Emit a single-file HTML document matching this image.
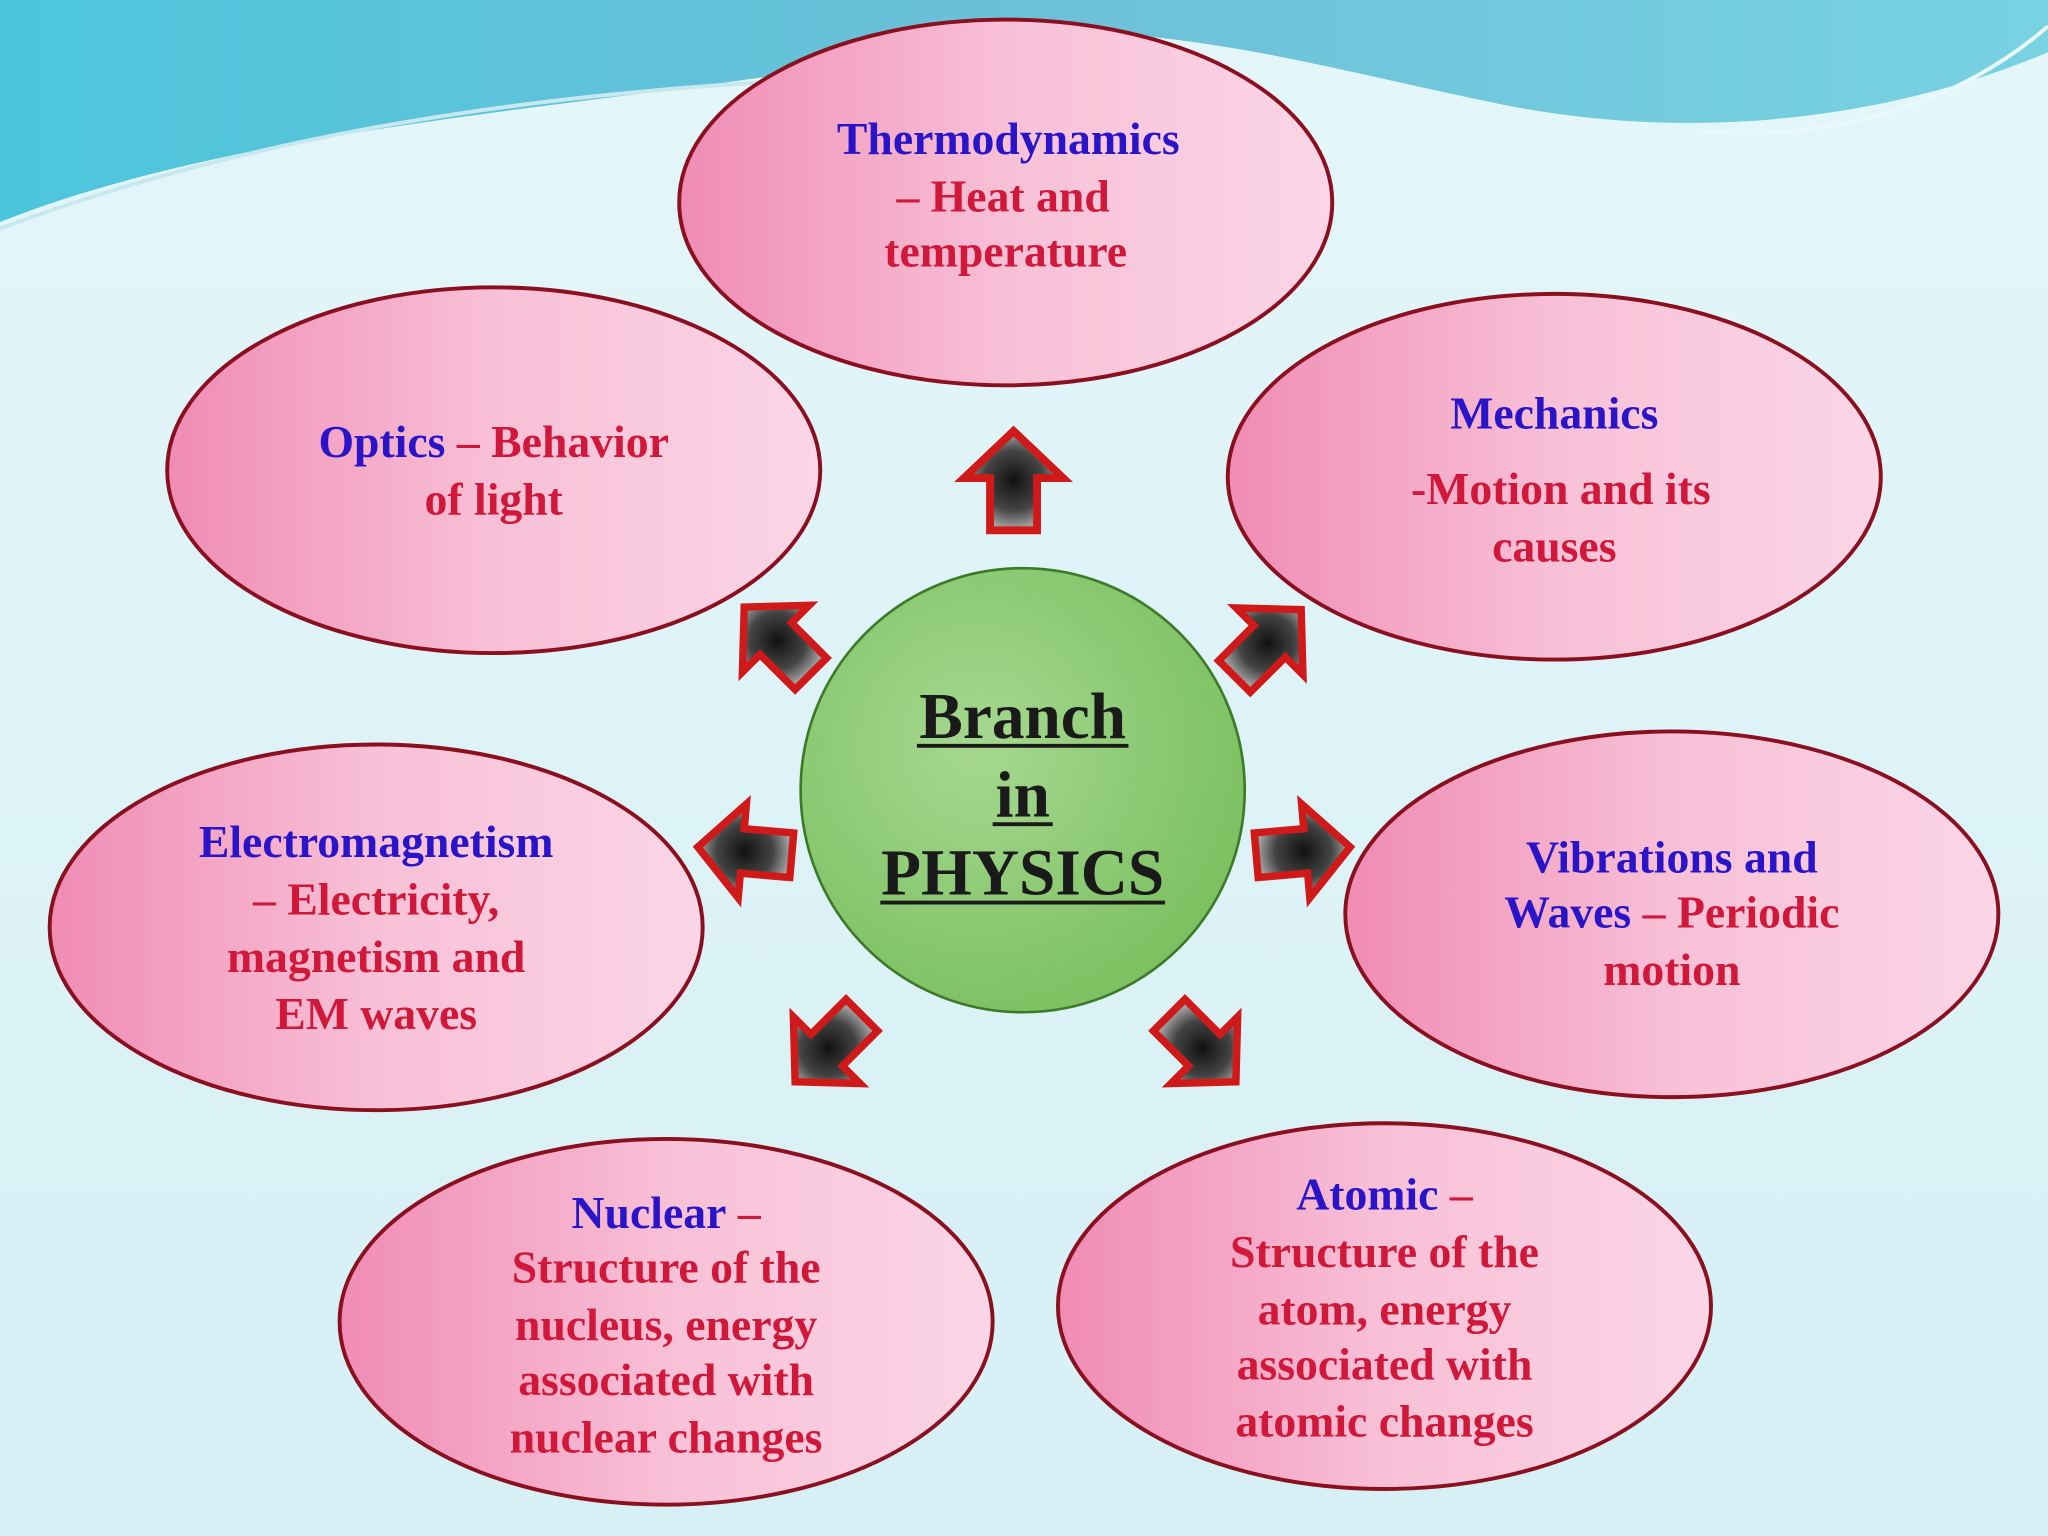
<!DOCTYPE html>
<html><head><meta charset="utf-8"><style>html,body{margin:0;padding:0;width:2048px;height:1536px;overflow:hidden}</style></head><body>
<svg width="2048" height="1536" viewBox="0 0 1568 1176" preserveAspectRatio="none" xmlns="http://www.w3.org/2000/svg">
<defs>
<linearGradient id="bg" x1="0" y1="0" x2="0" y2="1"><stop offset="0" stop-color="#e4f6fa"/><stop offset="1" stop-color="#d6f0f5"/></linearGradient>
<linearGradient id="wave" x1="0" y1="0" x2="1" y2="0"><stop offset="0" stop-color="#4cc6dc"/><stop offset="0.5" stop-color="#6cc0d8"/><stop offset="1" stop-color="#78d2e2"/></linearGradient>
<linearGradient id="pink" x1="0" y1="0" x2="1" y2="0"><stop offset="0" stop-color="#f08cb4"/><stop offset="0.5" stop-color="#f8c0d6"/><stop offset="1" stop-color="#fbd6e6"/></linearGradient>
<radialGradient id="green" cx="0.4" cy="0.4" r="0.7"><stop offset="0" stop-color="#a6d890"/><stop offset="1" stop-color="#78be5c"/></radialGradient>
<radialGradient id="blk" cx="0.5" cy="0.5" r="0.5"><stop offset="0" stop-color="#111"/><stop offset="0.6" stop-color="#444"/><stop offset="1" stop-color="#aaa"/></radialGradient>
<g id="arr"><path d="M0,-42 L38,-6 L18,-6 L18,34 L-18,34 L-18,-6 L-38,-6 Z" fill="url(#blk)" stroke="#d01a1a" stroke-width="6" stroke-linejoin="miter"/></g>
</defs>
<rect width="1568" height="1176" fill="url(#bg)"/>
<path d="M0,0 H1568 V40 C1450,90 1300,110 1150,80 C1000,50 850,0 700,40 C500,80 200,90 0,170 Z" fill="url(#wave)"/>
<path d="M0,175 C200,100 420,70 640,60" stroke="#c8e8ef" stroke-width="3" fill="none"/>
<path d="M1568,20 C1500,80 1400,110 1300,100" stroke="#e8f8fb" stroke-width="3" fill="none"/>
<g stroke="#8a1020" stroke-width="3" fill="url(#pink)">
<ellipse cx="770" cy="155" rx="250" ry="140"/>
<ellipse cx="378" cy="360" rx="250" ry="140"/>
<ellipse cx="1190" cy="365" rx="250" ry="140"/>
<ellipse cx="288" cy="710" rx="250" ry="140"/>
<ellipse cx="1280" cy="700" rx="250" ry="140"/>
<ellipse cx="510" cy="1012" rx="250" ry="140"/>
<ellipse cx="1060" cy="1000" rx="250" ry="140"/>
</g>
<circle cx="783" cy="605" r="170" fill="url(#green)" stroke="#3c7a28" stroke-width="2"/>
<use href="#arr" transform="translate(776,372) rotate(0)"/>
<use href="#arr" transform="translate(598,493) rotate(-45) scale(0.95)"/>
<use href="#arr" transform="translate(968,495) rotate(45) scale(0.95)"/>
<use href="#arr" transform="translate(574,652) rotate(-85) scale(0.95)"/>
<use href="#arr" transform="translate(994,652) rotate(85) scale(0.95)"/>
<use href="#arr" transform="translate(637,800) rotate(-135) scale(0.95)"/>
<use href="#arr" transform="translate(918,800) rotate(135) scale(0.95)"/>
<g font-family="Liberation Serif, serif" font-weight="bold" font-size="35" text-anchor="middle" fill="#d0183a">
<text x="772" y="118" fill="#2a14c8">Thermodynamics</text>
<text x="768" y="162">– Heat and</text>
<text x="770" y="204">temperature</text>
<text x="378" y="350"><tspan fill="#2a14c8">Optics</tspan> – Behavior</text>
<text x="378" y="394">of light</text>
<text x="1190" y="328" fill="#2a14c8">Mechanics</text>
<text x="1195" y="386">-Motion and its</text>
<text x="1190" y="430">causes</text>
<text x="288" y="656" fill="#2a14c8">Electromagnetism</text>
<text x="288" y="700">– Electricity,</text>
<text x="288" y="744">magnetism and</text>
<text x="288" y="788">EM waves</text>
<text x="1280" y="668" fill="#2a14c8">Vibrations and</text>
<text x="1280" y="710"><tspan fill="#2a14c8">Waves</tspan> – Periodic</text>
<text x="1280" y="754">motion</text>
<text x="510" y="940"><tspan fill="#2a14c8">Nuclear</tspan> –</text>
<text x="510" y="982">Structure of the</text>
<text x="510" y="1026">nucleus, energy</text>
<text x="510" y="1068">associated with</text>
<text x="510" y="1112">nuclear changes</text>
<text x="1060" y="926"><tspan fill="#2a14c8">Atomic</tspan> –</text>
<text x="1060" y="970">Structure of the</text>
<text x="1060" y="1014">atom, energy</text>
<text x="1060" y="1056">associated with</text>
<text x="1060" y="1100">atomic changes</text>
</g>
<g font-family="Liberation Serif, serif" font-weight="bold" font-size="50" text-anchor="middle" fill="#1a1a1a">
<text x="783" y="565">Branch</text>
<text x="783" y="625">in</text>
<text x="783" y="685">PHYSICS</text>
</g>
<g stroke="#1a1a1a" stroke-width="3">
<line x1="702" y1="571" x2="864" y2="571"/>
<line x1="760" y1="631" x2="806" y2="631"/>
<line x1="674" y1="691" x2="892" y2="691"/>
</g>
</svg>
</body></html>
